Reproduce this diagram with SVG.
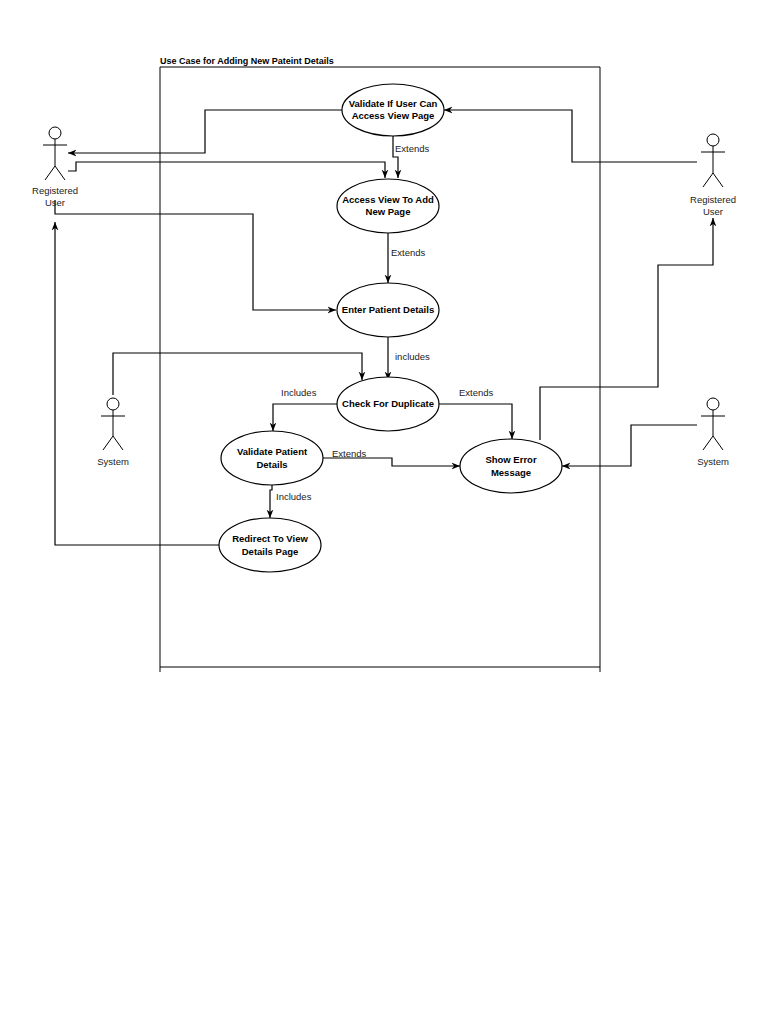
<svg xmlns="http://www.w3.org/2000/svg" width="768" height="1024" viewBox="0 0 768 1024">
<defs><marker id="a" viewBox="0 0 10 10" refX="10" refY="5" markerWidth="7" markerHeight="7" orient="auto"><path d="M0,1 L10,5 L0,9 L3,5 Z" fill="#000"/></marker></defs>
<style>
.e{fill:#fff;stroke:#000;stroke-width:1.2}
.t{font-family:"Liberation Sans",Arial,sans-serif;font-size:9.5px;font-weight:bold;text-anchor:middle}
.l{font-family:"Liberation Sans",Arial,sans-serif;font-size:9.5px;fill:#222}
.c path{fill:none;stroke:#000;stroke-width:1.2;marker-end:url(#a)}
.s{fill:none;stroke:#000;stroke-width:1}
</style>
<rect width="768" height="1024" fill="#fff"/>
<g id="boundary"><path d="M160,672 V67 H600 V672 M160,667 H600" class="s" stroke-width="1.2"/>
<text x="160" y="64" class="t" style="text-anchor:start;font-size:9px">Use Case for Adding New Pateint Details</text></g>
<g class="c" id="connectors">
<path d="M342,110 H205 V153 H68"/>
<path d="M68,171 H76 V162 H385 V178"/>
<path d="M393,136 V157 H398 V178"/>
<path d="M55,200 V214 H253 V310 H336"/>
<path d="M388,233 V283"/>
<path d="M697,162 H572 V110 H444"/>
<path d="M388,337 V380"/>
<path d="M113,395 V353 H362 V380"/>
<path d="M337,404 H273 V431"/>
<path d="M439,404 H512 V439"/>
<path d="M323,458 H392 V466 H460"/>
<path d="M272,485 V490 H270 V518"/>
<path d="M219,545 H55 V222"/>
<path d="M540,440 V387 H658 V265 H713 V218"/>
<path d="M697,425 H631 V466 H562"/>
</g>
<g class="l">
<text x="395" y="152">Extends</text>
<text x="391" y="256">Extends</text>
<text x="395" y="360">includes</text>
<text x="281" y="396">Includes</text>
<text x="459" y="396">Extends</text>
<text x="332" y="457">Extends</text>
<text x="276" y="500">Includes</text>
</g>
<g id="uc1"><ellipse class="e" cx="393" cy="110" rx="51" ry="26"/><text class="t" x="393" y="107">Validate If User Can</text><text class="t" x="393" y="119">Access View Page</text></g>
<g id="uc2"><ellipse class="e" cx="388" cy="206" rx="51" ry="27"/><text class="t" x="388" y="203">Access View To Add</text><text class="t" x="388" y="215">New Page</text></g>
<g id="uc3"><ellipse class="e" cx="388" cy="310" rx="51" ry="27"/><text class="t" x="388" y="313">Enter Patient Details</text></g>
<g id="uc4"><ellipse class="e" cx="388" cy="404" rx="51" ry="27"/><text class="t" x="388" y="407">Check For Duplicate</text></g>
<g id="uc5"><ellipse class="e" cx="272" cy="458" rx="51" ry="27"/><text class="t" x="272" y="455">Validate Patient</text><text class="t" x="272" y="468">Details</text></g>
<g id="uc6"><ellipse class="e" cx="511" cy="466" rx="51" ry="27"/><text class="t" x="511" y="463">Show Error</text><text class="t" x="511" y="476">Message</text></g>
<g id="uc7"><ellipse class="e" cx="270" cy="545" rx="51" ry="27"/><text class="t" x="270" y="542">Redirect To View</text><text class="t" x="270" y="555">Details Page</text></g>
<g id="actor1"><circle class="s" cx="55" cy="133" r="6"/><path class="s" d="M55,139 V166 M43,145 H67 M55,166 L45,180 M55,166 L65,180"/><text class="l" x="55" y="194" text-anchor="middle">Registered</text><text class="l" x="55" y="206" text-anchor="middle">User</text></g>
<g id="actor2"><circle class="s" cx="713" cy="140" r="6"/><path class="s" d="M713,146 V173 M701,152 H725 M713,173 L703,187 M713,173 L723,187"/><text class="l" x="713" y="203" text-anchor="middle">Registered</text><text class="l" x="713" y="215" text-anchor="middle">User</text></g>
<g id="actor3"><circle class="s" cx="113" cy="404" r="6"/><path class="s" d="M113,410 V436 M101,416 H125 M113,436 L103,450 M113,436 L123,450"/><text class="l" x="113" y="465" text-anchor="middle">System</text></g>
<g id="actor4"><circle class="s" cx="713" cy="404" r="6"/><path class="s" d="M713,410 V436 M701,416 H725 M713,436 L703,450 M713,436 L723,450"/><text class="l" x="713" y="465" text-anchor="middle">System</text></g>
</svg>
